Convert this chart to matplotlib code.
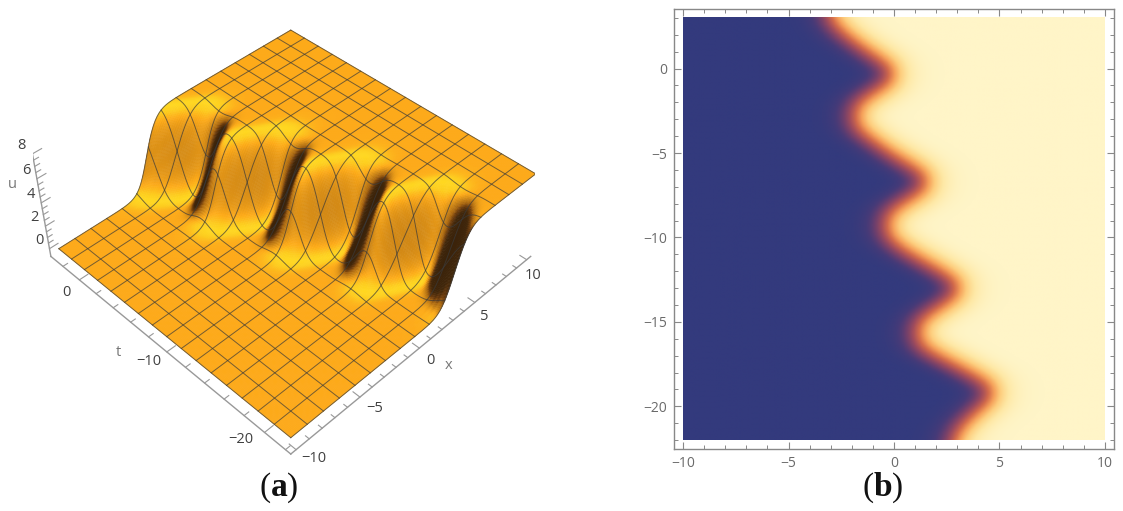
import numpy as np
import matplotlib
matplotlib.use("Agg")
import matplotlib.pyplot as plt
from matplotlib.colors import LinearSegmentedColormap

plt.rcParams['font.family'] = ['Open Sans', 'DejaVu Sans']
plt.rcParams['mathtext.fontset'] = 'custom'
plt.rcParams['mathtext.rm'] = 'Liberation Serif'
plt.rcParams['mathtext.bf'] = 'Liberation Serif:bold'

# front of the kink
front_t = [3, 2, 1, 0, -1, -2, -3, -4, -5, -6, -7, -8, -9, -10, -11, -12, -13,
           -14, -15, -16, -17, -18, -19, -20, -21, -22]
front_x = [-2.9, -2.0, -0.9, 0.5, 0.2, -1.4, -2.1, -0.9, 0.1, 1.7, 2.2, 0.8, -0.5,
           -0.1, 1.2, 2.7, 3.8, 2.8, 1.4, 0.9, 2.5, 4.0, 5.4, 4.6, 3.6, 3.0]
height = 6.4
width = 0.82

x_ticks = [-10, -5, 0, 5, 10]
t_ticks_a = [0, -10, -20]
u_ticks = [0, 2, 4, 6, 8]
t_ticks_b = [0, -5, -10, -15, -20]

# density plot colours, low to high
dens_pos = [0, 0.05, 0.12, 0.22, 0.35, 0.5, 0.65, 0.82, 1]
dens_col = ['#333a7d', '#463a78', '#6f3f6c', '#a04c5c', '#d26a4b', '#f5a05a', '#fdcd7d', '#fee8a5', '#fff5c8']
# surface colour against brightness of the lighting
light_pos = [0, 0.4, 0.52, 0.6, 0.68, 0.82, 0.92, 1]
light_col = ['#37200a', '#40260a', '#6e3c0c', '#a8650f', '#c37d14', '#fdaa19', '#fdcc1e', '#ffd820']
light_dir = np.array([-0.4, -0.4, 0.82])
grey = '#999999'
mesh = '#3a3a3a'


def front(t):
    # smooth line through the knots
    t_f = np.linspace(3, -22, 501)
    x_f = np.interp(-t_f, -np.array(front_t), front_x)
    k = np.exp(-0.5 * (np.arange(-30, 31) / 7.0) ** 2)
    k /= k.sum()
    x_s = np.convolve(np.pad(x_f, 30, mode='reflect', reflect_type='odd'), k, mode='valid')
    return np.interp(-t, -t_f, x_s)


def field(x, t):
    # kink blurred a little in t, this rounds the noses
    total = 0
    for dt, wt in zip([-1.2, -0.8, -0.4, 0, 0.4, 0.8, 1.2], [0.07, 0.13, 0.2, 0.2, 0.2, 0.13, 0.07]):
        total = total + wt * 0.5 * (1 + np.tanh((x - front(t + dt)) / width))
    return total


fig = plt.figure(figsize=(11.23, 5.11), dpi=100)

# (a) surface
S = 502
ax = fig.add_axes([33 / 1123, 46.2 / 511, S / 1123, S / 511], projection='3d', computed_zorder=False)
ax.set_xlim(-10.4, 10.4, view_margin=0)
ax.set_ylim(-22.5, 3.5, view_margin=0)
ax.set_zlim(-0.7, 8, view_margin=0)
ax.set_box_aspect((1, 1, 0.4), zoom=1)
ax.view_init(elev=43.3, azim=225)
ax.set_proj_type('persp', focal_length=0.48)
ax.set_xticks([])
ax.set_yticks([])
ax.set_zticks([])
ax.set_axis_off()

x = np.linspace(-10, 10, 220)
t = np.linspace(-22, 3, 220)
X, T = np.meshgrid(x, t)
U = height * field(X, T)
du_t, du_x = np.gradient(U, t, x)
nx, ny = -du_x * 1.05, -du_t * 1.31
norm = np.sqrt(nx ** 2 + ny ** 2 + 1)
bright = (nx * light_dir[0] + ny * light_dir[1] + light_dir[2]) / norm
surf_cmap = LinearSegmentedColormap.from_list('surf', list(zip(light_pos, light_col)))
ax.plot_surface(X, T, U, facecolors=surf_cmap(np.clip(bright, 0, 1)), rstride=1, cstride=1,
                shade=False, linewidth=0.4, zorder=1)

for xm in np.linspace(-10, 10, 17):
    ax.plot(xm + 0 * t, t, height * field(xm + 0 * t, t), color=mesh, lw=0.7, alpha=0.7, zorder=5)
for tm in np.linspace(-22, 3, 17):
    ax.plot(x, tm + 0 * x, height * field(x, tm + 0 * x), color=mesh, lw=0.7, alpha=0.7, zorder=5)

# bounding box edges with ticks
ax.plot([-10.4, 10.4], [-22.5, -22.5], [-0.7, -0.7], color=grey, lw=1, zorder=0)
ax.plot([-10.4, -10.4], [-22.5, 3.5], [-0.7, -0.7], color=grey, lw=1, zorder=0)
ax.plot([-10.4, -10.4], [3.5, 3.5], [-0.7, 8], color=grey, lw=1, zorder=0)
for v in range(-10, 11):
    ln = 0.65 if v % 5 == 0 else 0.35
    ax.plot([v, v], [-22.5, -22.5 + ln], [-0.7, -0.7], color=grey, lw=0.8, zorder=0)
for v in range(-22, 3, 2):
    ln = 0.65 if v % 10 == 0 else 0.35
    ax.plot([-10.4, -10.4 + ln], [v, v], [-0.7, -0.7], color=grey, lw=0.8, zorder=0)
for v in np.arange(0, 8.01, 0.5):
    ln = 0.65 if v % 2 == 0 else 0.35
    ax.plot([-10.4, -10.4 + ln], [3.5, 3.5], [v, v], color=grey, lw=0.8, zorder=0)

lab = '#404040'
for v in x_ticks:
    ax.text(v - 0.25 - 0.05 * v, -23.85, -0.7, str(v).replace('-', '\u2212'), color=lab, fontsize=10.5,
            ha='center', va='center')
for v in t_ticks_a:
    ax.text(-11.6, v - 0.3 - 0.05 * v, -0.7, str(v).replace('-', '\u2212'), color=lab, fontsize=10.5,
            ha='center', va='center')
for v in u_ticks:
    ax.text(-10.4, 4.8, v, str(v), color=lab, fontsize=10.5, ha='center', va='center')
ax.text(-12.4, -7.6, -0.7, 't', color='#777777', fontsize=10.5, ha='center', va='center')
ax.text(0.2, -25.0, -0.7, 'x', color='#777777', fontsize=10.5, ha='center', va='center')
ax.text(-10.4, 7.2, 3.5, 'u', color='#777777', fontsize=10.5, ha='center', va='center')

# (b) density
ax2 = fig.add_axes([674 / 1123, 62 / 511, 440 / 1123, 440 / 511])
x2 = np.linspace(-10, 10, 500)
t2 = np.linspace(-22, 3, 500)
X2, T2 = np.meshgrid(x2, t2)
dens_cmap = LinearSegmentedColormap.from_list('dens', list(zip(dens_pos, dens_col)))
ax2.imshow(field(X2, T2), extent=[-10, 10, -22, 3], origin='lower', aspect='auto', cmap=dens_cmap,
           vmin=0, vmax=1, interpolation='bilinear')
ax2.set_xlim(-10.43, 10.43)
ax2.set_ylim(-22.53, 3.53)
ax2.set_xticks(x_ticks)
ax2.set_xticklabels([str(v).replace('-', '\u2212') for v in x_ticks])
ax2.set_yticks(t_ticks_b)
ax2.set_yticklabels([str(v).replace('-', '\u2212') for v in t_ticks_b])
ax2.set_xticks(range(-10, 11), minor=True)
ax2.set_yticks(range(-22, 4), minor=True)
ax2.tick_params(which='major', direction='in', length=5, width=0.8, color='#888888', labelcolor='#6a6a6a',
                labelsize=10, top=True, right=True, pad=5)
ax2.tick_params(which='minor', direction='in', length=3, width=0.7, color='#888888', top=True, right=True)
for s in ax2.spines.values():
    s.set_color('#888888')
    s.set_linewidth(1)

fig.text(279 / 1123, 1 - 488 / 511, r'($\mathbf{a}$)', family='Liberation Serif', fontsize=24,
         ha='center', va='center', color='#111111')
fig.text(883 / 1123, 1 - 488 / 511, r'($\mathbf{b}$)', family='Liberation Serif', fontsize=24,
         ha='center', va='center', color='#111111')

fig.savefig('out.png', dpi=100)
